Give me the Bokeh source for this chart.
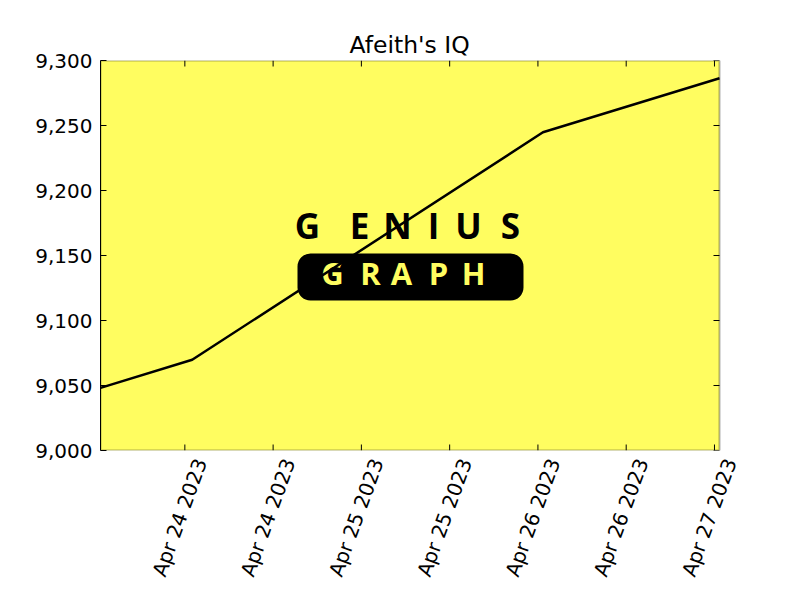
import math
import pandas as pd
from bokeh.plotting import figure
from bokeh.models import (FixedTicker, NumeralTickFormatter, Label, BoxAnnotation, Range1d,
                          DatetimeAxis, DatetimeTickFormatter)
from bokeh.embed import file_html
from bokeh.resources import INLINE

# ---------------- data ----------------
chart_title = "Afeith's IQ"
dates = ["2023-04-23 12:32", "2023-04-24 01:00", "2023-04-26 00:41", "2023-04-27 00:41"]
iq = [9048.2, 9069.8, 9244.8, 9286.4]
x_tick_dates = ["2023-04-24 00:00", "2023-04-24 12:00", "2023-04-25 00:00",
                "2023-04-25 12:00", "2023-04-26 00:00", "2023-04-26 12:00",
                "2023-04-27 00:00"]
x_tick_format = "%b %d %Y"
y_ticks = [9000, 9050, 9100, 9150, 9200, 9250, 9300]
wm_top = "GENIUS"
wm_bottom = "GRAPH"

# ---------------- helpers ----------------
EPOCH = pd.Timestamp("1970-01-01")
def to_ms(s):
    return (pd.Timestamp(s) - EPOCH) // pd.Timedelta(milliseconds=1)

x_ms = [to_ms(d) for d in dates]
x_ticks_ms = [to_ms(d) for d in x_tick_dates]

YELLOW = "#fffd60"
FONT = "DejaVu Sans"
AW, FH = 619, 390      # plot-area size in px
EXT = 14               # extra (white) frame width on the right, room for the last label
FW = AW + EXT
ML, MT = 100, 60
W, H = 790, 590

x0, x1 = x_ms[0], x_ms[-1]
y0, y1 = y_ticks[0], y_ticks[-1]
xpp = (x1 - x0) / AW          # data units per pixel (x)
ypp = (y1 - y0) / FH          # data units per pixel (y)

p = figure(frame_width=FW, frame_height=FH,
           x_axis_type="datetime",
           x_range=Range1d(x0, x1 + EXT * xpp), y_range=Range1d(y0, y1),
           output_backend="svg", toolbar_location=None,
           min_border_left=ML, min_border_top=MT,
           min_border_right=W - ML - FW, min_border_bottom=H - MT - FH,
           background_fill_color="white", border_fill_color="white",
           outline_line_color=None,
           title=chart_title)

p.grid.visible = False
p.xaxis.visible = False

# yellow plot area with black border
p.add_layout(BoxAnnotation(left=x0, right=x1, bottom=y0, top=y1,
                           fill_color=YELLOW, fill_alpha=1.0,
                           line_color="black", line_width=2, level="underlay"))

p.title.align = "left"
p.title.offset = 249
p.title.text_font = FONT
p.title.text_font_size = "23.5px"
p.title.text_font_style = "normal"
p.title.text_color = "black"
p.title.standoff = 3

# left axis (real axis with labels)
ya = p.yaxis[0]
ya.ticker = FixedTicker(ticks=y_ticks)
ya.formatter = NumeralTickFormatter(format="0,0")
ya.major_label_standoff = 8
ya.axis_line_color = "black"
ya.major_tick_in = 6
ya.major_tick_out = 0
ya.major_tick_line_color = "black"
ya.minor_tick_line_color = None
ya.major_label_text_font = FONT
ya.major_label_text_font_size = "20px"
ya.major_label_text_color = "black"

# bottom labels: an axis on a range shifted by a few pixels so that the rotated
# labels are centred on their ticks (matplotlib style)
SHIFT = 16
p.extra_x_ranges = {"lab": Range1d(x0 - SHIFT * xpp, x1 + (EXT - SHIFT) * xpp)}
fmt = x_tick_format
xa = DatetimeAxis(x_range_name="lab", ticker=FixedTicker(ticks=x_ticks_ms),
                  formatter=DatetimeTickFormatter(
                      microseconds=fmt, milliseconds=fmt, seconds=fmt, minsec=fmt,
                      minutes=fmt, hourmin=fmt, hours=fmt, days=fmt, months=fmt,
                      years=fmt))
xa.axis_line_color = None
xa.major_tick_line_color = None
xa.minor_tick_line_color = None
xa.major_tick_in = 0
xa.major_tick_out = 0
xa.major_label_orientation = math.radians(70)
xa.major_label_standoff = 9
xa.major_label_text_font = FONT
xa.major_label_text_font_size = "20px"
xa.major_label_text_color = "black"
p.add_layout(xa, "below")

# inward tick marks on bottom, top and right edges (classic style)
TICK = 6
p.ray(x=x_ticks_ms, y=[y0] * len(x_ticks_ms), length=TICK, length_units="screen",
      angle=math.pi / 2, line_color="black", line_width=1)
p.ray(x=x_ticks_ms, y=[y1] * len(x_ticks_ms), length=TICK, length_units="screen",
      angle=-math.pi / 2, line_color="black", line_width=1)
p.ray(x=[x1] * len(y_ticks), y=y_ticks, length=TICK, length_units="screen",
      angle=math.pi, line_color="black", line_width=1)

# ---------------- watermark (GENIUS / GRAPH logo) ----------------
xc = (x0 + x1) / 2
def ydat(py):                 # py = pixels below plot-area top
    return y1 - py * ypp

box = BoxAnnotation(left=xc - 112.5 * xpp, right=xc + 113.5 * xpp,
                    top=ydat(193), bottom=ydat(240),
                    fill_color="black", fill_alpha=1.0,
                    line_color=None, border_radius=13)
p.add_layout(box)

top_offsets = [-102.5, -50.5, -12.5, 23.5, 58.5, 100.5]
for ch, dx in zip(wm_top, top_offsets):
    p.add_layout(Label(x=xc, y=ydat(165), x_offset=dx, text=ch,
                       text_align="center", text_baseline="alphabetic",
                       text_font="Open Sans", text_font_style="bold",
                       text_font_size="35px", text_color="black"))

bot_offsets = [-77.5, -39.5, -8.5, 28.5, 63.5]
for ch, dx in zip(wm_bottom, bot_offsets):
    p.add_layout(Label(x=xc, y=ydat(212), x_offset=dx, text=ch,
                       text_align="center", text_baseline="alphabetic",
                       text_font="Open Sans", text_font_style="bold",
                       text_font_size="31px", text_color=YELLOW))

# ---------------- data line ----------------
p.line(x_ms, iq, line_color="black", line_width=2.5, level="overlay")

open("out.html", "w").write(file_html(p, INLINE))
